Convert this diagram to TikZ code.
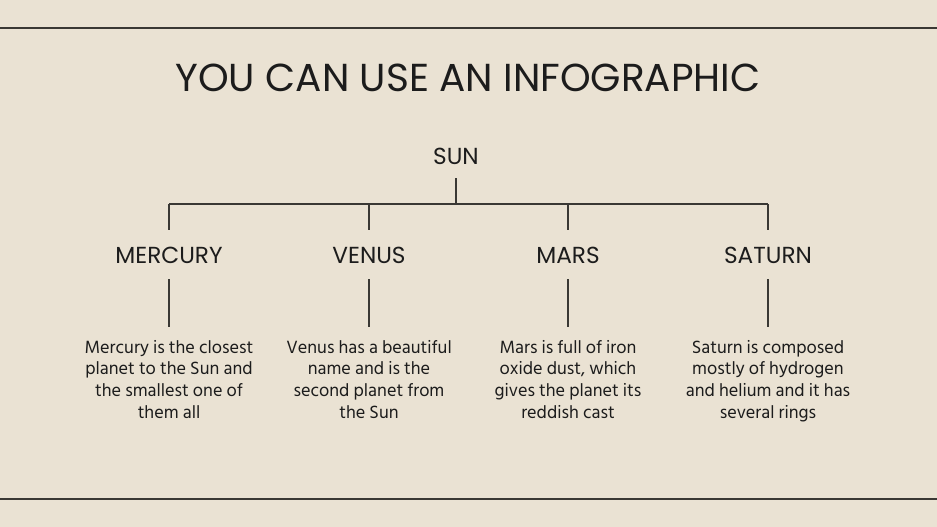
\documentclass[tikz,border=0pt]{standalone}
\usepackage{fontspec}
\setmainfont{Poppins}
\newfontfamily\bodyfont{Hind Siliguri}
\definecolor{bg}{HTML}{EAE2D3}
\definecolor{ink}{HTML}{1C1C1C}
\definecolor{rule}{HTML}{3A3834}
\begin{document}
\begin{tikzpicture}[x=1pt,y=-1pt,
  title/.style={font=\fontsize{39}{46}\selectfont, text=ink, inner sep=0pt},
  head/.style={font=\fontsize{23.2}{27}\selectfont, text=ink, inner sep=0pt},
  desc/.style={font=\bodyfont\fontsize{18.2}{21.7}\selectfont, text=ink, align=center, inner sep=0pt, anchor=north},
  conn/.style={draw=rule, line width=1.3pt}]
\fill[bg] (0,0) rectangle (937,527);
\useasboundingbox (0,0) rectangle (937,527);
\coordinate (tl) at (0,28); \coordinate (tr) at (937,28);
\coordinate (bl) at (0,499); \coordinate (br) at (937,499);
\draw[conn] (tl) -- (tr);
\draw[conn] (bl) -- (br);
\node[title] (t) at (468,78) {YOU CAN USE AN INFOGRAPHIC};
\node[head] (sun) at (456,156) {SUN};
\coordinate (s1) at (456,178);
\coordinate (s2) at (456,204);
\draw[conn] (s1) -- (s2);
\coordinate (hl) at (169,204); \coordinate (hr) at (768,204);
\draw[conn] (hl) -- (hr);
\foreach \x/\n/\h/\d in {169/mer/MERCURY/{Mercury is the closest\\planet to the Sun and\\the smallest one of\\them all},
  369/ven/VENUS/{Venus has a beautiful\\name and is the\\second planet from\\the Sun},
  568/mar/MARS/{Mars is full of iron\\oxide dust, which\\gives the planet its\\reddish cast},
  768/sat/SATURN/{Saturn is composed\\mostly of hydrogen\\and helium and it has\\several rings}}{
  \coordinate (\n a) at (\x,204);
  \coordinate (\n b) at (\x,230);
  \draw[conn] (\n a) -- (\n b);
  \node[head] (\n) at (\x,255) {\h};
  \coordinate (\n c) at (\x,279);
  \coordinate (\n d) at (\x,327);
  \draw[conn] (\n c) -- (\n d);
  \node[desc] (\n t) at (\x,340) {\d};
}
\end{tikzpicture}
\end{document}
